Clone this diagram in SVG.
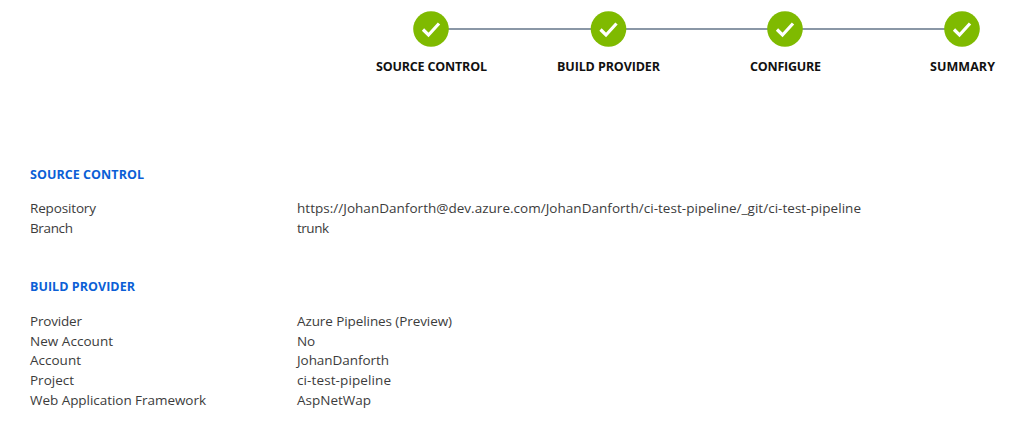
<svg xmlns="http://www.w3.org/2000/svg" width="1024" height="421" viewBox="0 0 1024 421">
<style>
text{font-family:"Open Sans","Noto Sans","Liberation Sans",sans-serif}
.step{font-size:12.5px;font-weight:700;fill:#111}
.head{font-size:12.5px;font-weight:700;fill:#0b5fd6}
.row{font-size:13.5px;fill:#3c3c3c}
.c{fill:#7fba00}
.k{fill:none;stroke:#fff;stroke-width:3.2}
.line{stroke:#8a97a6;stroke-width:2;fill:none}
</style>
<rect width="1024" height="421" fill="#fff"/>
<g id="connectors">
<path class="line" d="M431 29H962"/>
</g>
<g id="step-source-control"><circle class="c" cx="431" cy="29" r="17.8"/><path class="k" d="M423 29.500L428.500 35L439 23.500"/><text class="step" x="376" y="71" textLength="111">SOURCE CONTROL</text></g>
<g id="step-build-provider"><circle class="c" cx="608.500" cy="29" r="17.8"/><path class="k" d="M600.500 29.500L606 35L616.500 23.500"/><text class="step" x="557" y="71" textLength="103">BUILD PROVIDER</text></g>
<g id="step-configure"><circle class="c" cx="785" cy="29" r="17.8"/><path class="k" d="M777 29.500L782.500 35L793 23.500"/><text class="step" x="750" y="71" textLength="71">CONFIGURE</text></g>
<g id="step-summary"><circle class="c" cx="962" cy="29" r="17.8"/><path class="k" d="M954 29.500L959.500 35L970 23.500"/><text class="step" x="930" y="71" textLength="65">SUMMARY</text></g>
<g id="section-source-control">
<text class="head" x="30" y="179" textLength="114">SOURCE CONTROL</text>
<text class="row" x="30" y="213" textLength="66">Repository</text><text class="row" x="297" y="213" textLength="564">https://JohanDanforth@dev.azure.com/JohanDanforth/ci-test-pipeline/_git/ci-test-pipeline</text>
<text class="row" x="30" y="233" textLength="43">Branch</text><text class="row" x="297" y="233" textLength="32">trunk</text>
</g>
<g id="section-build-provider">
<text class="head" x="30" y="291" textLength="105">BUILD PROVIDER</text>
<text class="row" x="30" y="326" textLength="52">Provider</text><text class="row" x="297" y="326" textLength="155">Azure Pipelines (Preview)</text>
<text class="row" x="30" y="346" textLength="83">New Account</text><text class="row" x="297" y="346" textLength="18">No</text>
<text class="row" x="30" y="365" textLength="51">Account</text><text class="row" x="297" y="365" textLength="92">JohanDanforth</text>
<text class="row" x="30" y="385" textLength="44">Project</text><text class="row" x="297" y="385" textLength="94">ci-test-pipeline</text>
<text class="row" x="30" y="405" textLength="176">Web Application Framework</text><text class="row" x="297" y="405" textLength="74">AspNetWap</text>
</g>
</svg>
